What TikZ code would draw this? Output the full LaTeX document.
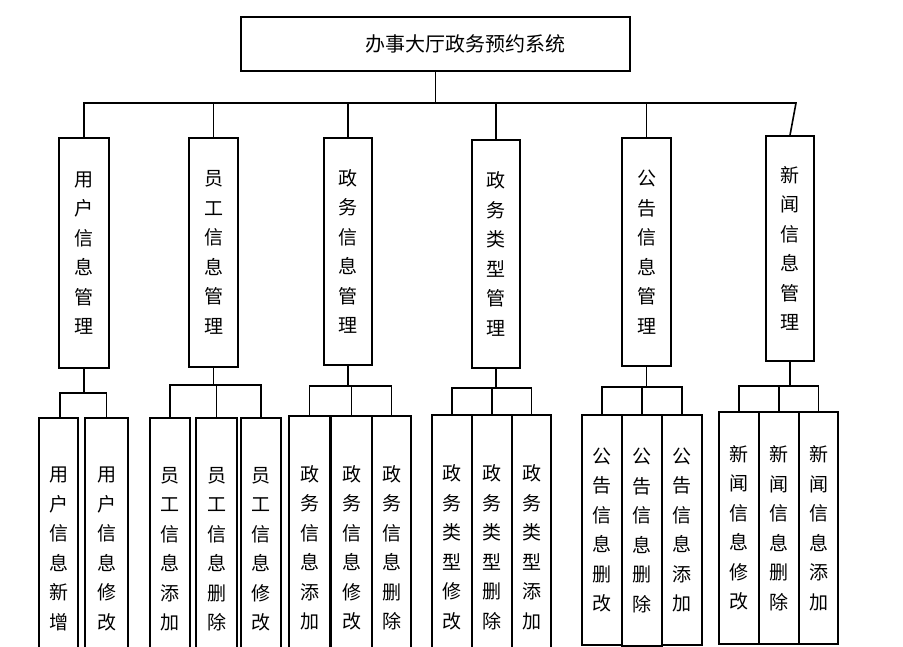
\documentclass[tikz,border=0pt]{standalone}
\usepackage{fontspec}
\setmainfont{Noto Sans CJK SC}
\begin{document}
\begin{tikzpicture}[x=1pt,y=-1pt,line width=1.6pt,
  box/.style={draw,inner sep=0pt,align=center,font=\fontsize{19}{29.5}\selectfont}]
\useasboundingbox (0,0) rectangle (903,647);
\node[box,minimum width=389pt,minimum height=54pt,font=\fontsize{20}{24}\selectfont] (root) at (435.5,44) {\hspace{60pt}办事大厅政务预约系统};
\newcommand\myColBox[6]{\node[box,minimum width=#3-#2,minimum height=#5-#4] (#1) at ({(#2+#3)/2},{(#4+#5)/2}) {#6};}
\myColBox{m1}{59}{109}{138}{368}{用\\户\\信\\息\\管\\理}
\myColBox{m2}{189}{238}{138}{367}{员\\工\\信\\息\\管\\理}
\myColBox{m3}{324}{372}{138}{365}{政\\务\\信\\息\\管\\理}
\myColBox{m4}{472}{520}{140}{368}{政\\务\\类\\型\\管\\理}
\myColBox{m5}{622}{671}{138}{366}{公\\告\\信\\息\\管\\理}
\myColBox{m6}{766}{814}{136}{361}{新\\闻\\信\\息\\管\\理}
\coordinate (busL) at (86,103); \coordinate (busR) at (796,103);
\draw (root.south) -- (root.south |- busL);
\draw (m1.north) -- (m1.north |- busL) -- (busR) -- (m6.north);
\foreach \m in {m2,m3,m4,m5} \draw (\m.north) -- (\m.north |- busL);
% children
\myColBox{a1}{39}{78}{418}{680}{用\\户\\信\\息\\新\\增}
\myColBox{a2}{85}{128}{418}{680}{用\\户\\信\\息\\修\\改}
\myColBox{b1}{150}{190}{418}{680}{员\\工\\信\\息\\添\\加}
\myColBox{b2}{196}{237}{418}{680}{员\\工\\信\\息\\删\\除}
\myColBox{b3}{241}{281}{418}{680}{员\\工\\信\\息\\修\\改}
\myColBox{c1}{289}{330}{416}{680}{政\\务\\信\\息\\添\\加}
\myColBox{c2}{331}{372}{416}{680}{政\\务\\信\\息\\修\\改}
\myColBox{c3}{372}{411}{416}{680}{政\\务\\信\\息\\删\\除}
\myColBox{d1}{432}{472}{415}{680}{政\\务\\类\\型\\修\\改}
\myColBox{d2}{472}{512}{415}{680}{政\\务\\类\\型\\删\\除}
\myColBox{d3}{512}{551}{415}{680}{政\\务\\类\\型\\添\\加}
\myColBox{e1}{582}{622}{415}{645}{公\\告\\信\\息\\删\\改}
\myColBox{e2}{622}{662}{415}{646}{公\\告\\信\\息\\删\\除}
\myColBox{e3}{662}{702}{415}{645}{公\\告\\信\\息\\添\\加}
\myColBox{f1}{719}{759}{412}{644}{新\\闻\\信\\息\\修\\改}
\myColBox{f2}{759}{799}{412}{644}{新\\闻\\信\\息\\删\\除}
\myColBox{f3}{799}{838}{412}{644}{新\\闻\\信\\息\\添\\加}
% group connectors
\coordinate (g1) at (0,393); \coordinate (g2) at (0,385); \coordinate (g3) at (0,386);
\coordinate (g4) at (0,388); \coordinate (g5) at (0,387); \coordinate (g6) at (0,386);
\draw (m1.south) -- (m1.south |- g1);
\draw ([xshift=1.5pt]a1.north) -- ([xshift=1.5pt]a1.north |- g1) -- (a2.north |- g1) -- (a2.north);
\foreach \p/\l/\mid/\r/\g in {m2/b1/b2/b3/g2, m3/c1/c2/c3/g3, m4/d1/d2/d3/g4, m5/e1/e2/e3/g5, m6/f1/f2/f3/g6}{
  \draw (\p.south) -- (\p.south |- \g);
  \draw (\l.north) -- (\l.north |- \g) -- (\r.north |- \g) -- (\r.north);
  \draw (\mid.north) -- (\mid.north |- \g);
}
\end{tikzpicture}
\end{document}
